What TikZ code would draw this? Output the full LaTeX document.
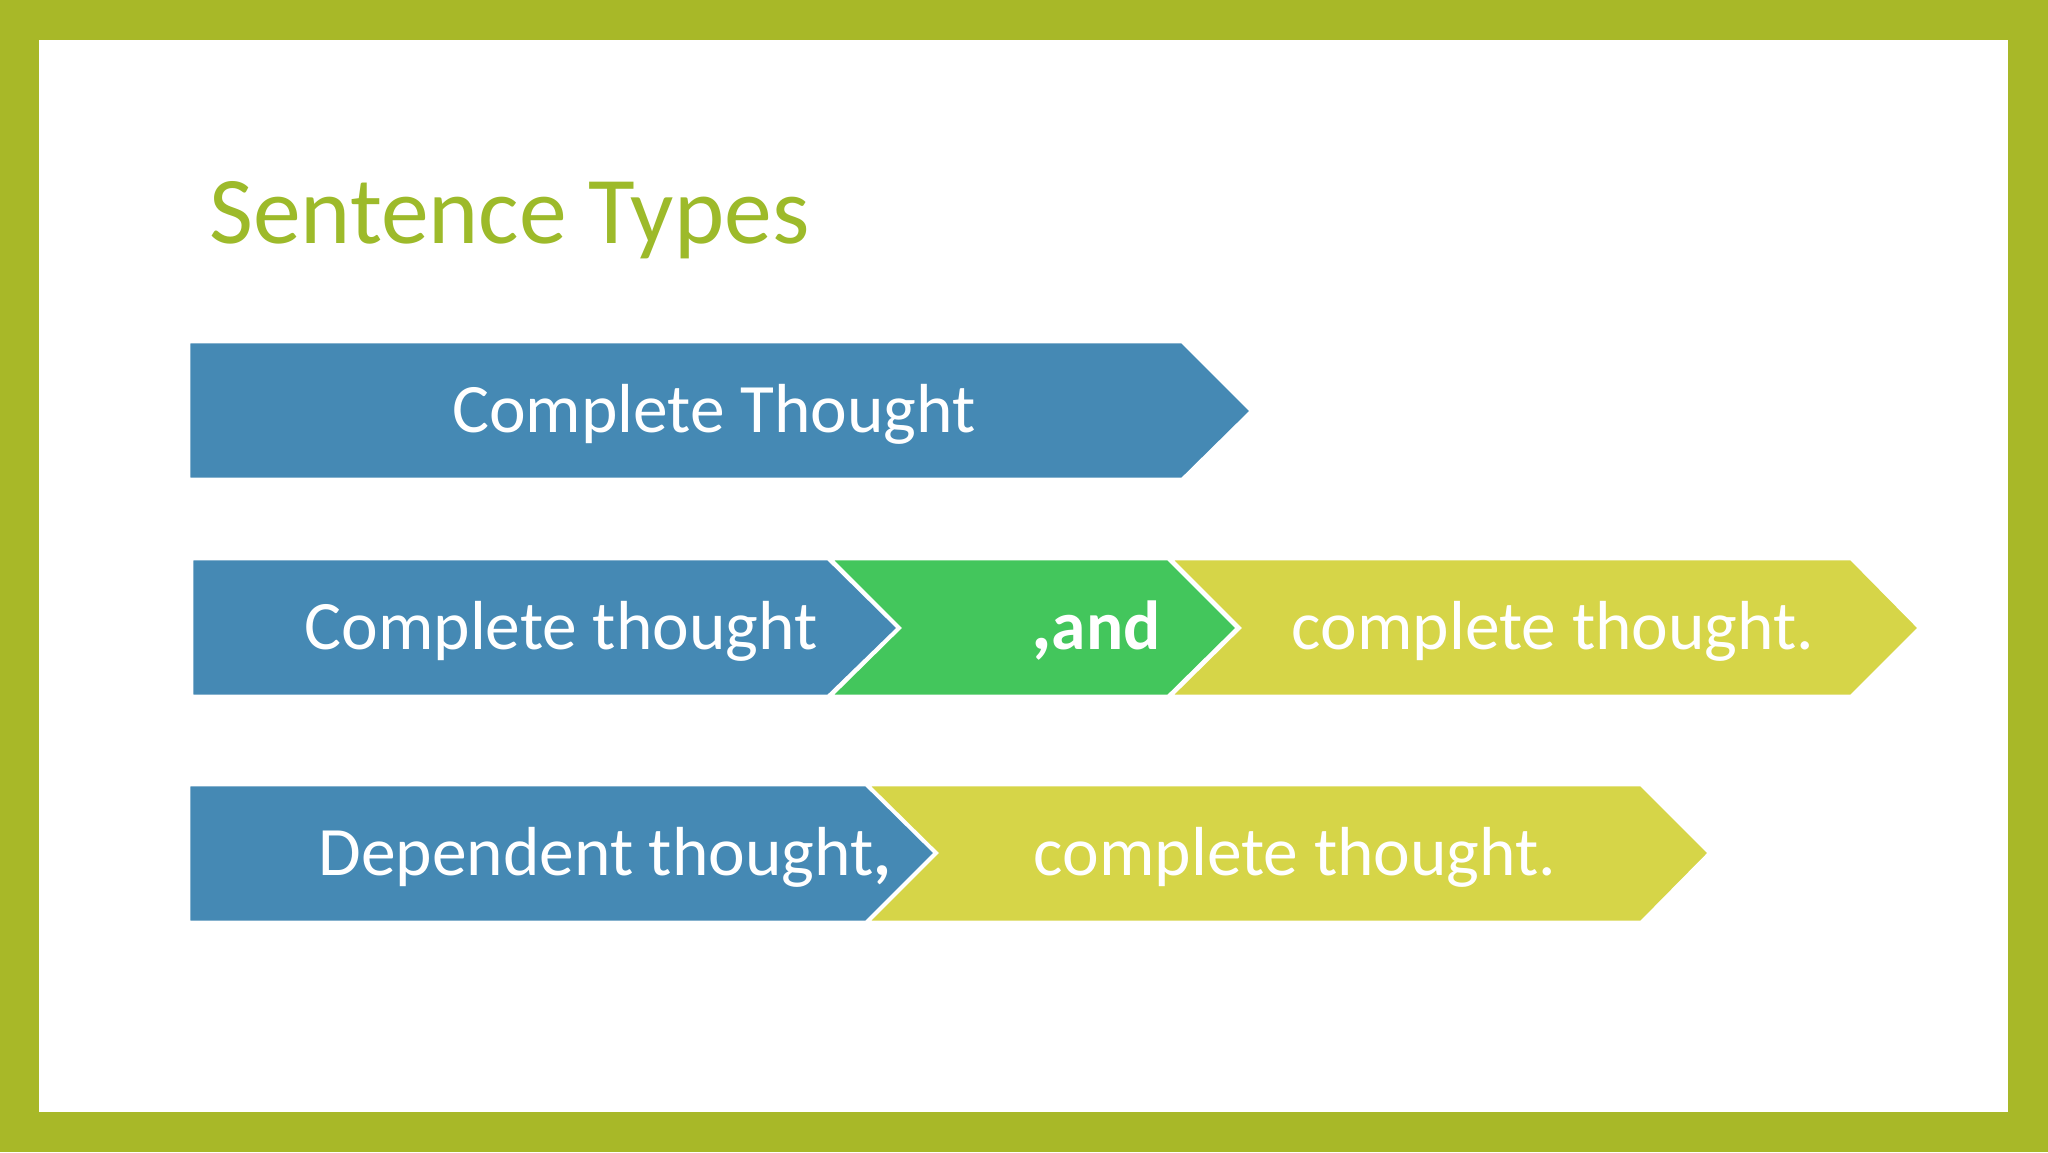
\documentclass[tikz,border=0pt]{standalone}
\usepackage{fontspec}
\setmainfont{Carlito}

\definecolor{framegreen}{HTML}{A8B828}
\definecolor{titlegreen}{HTML}{9DBA2A}
\definecolor{chevblue}{HTML}{4589B4}
\definecolor{chevgreen}{HTML}{43C65C}
\definecolor{chevyellow}{HTML}{D6D548}

\begin{document}
\begin{tikzpicture}[x=0.5pt, y=-0.5pt]

% Set the overall look of the slide
\tikzstyle{frame} = [fill=framegreen]
\tikzstyle{sheet} = [fill=white]
\tikzstyle{piece} = [draw=white, line width=1.3pt, line join=miter]
\tikzstyle{word} = [text=white, anchor=base, inner sep=0pt,
    font=\fontsize{34.7}{40}\selectfont]

% Frame and title
\fill[frame] (0,0) rectangle (2048,1152);
\fill[sheet] (39,40) rectangle (2008,1112);
\node[anchor=base west, inner sep=0pt, text=titlegreen,
    font=\fontsize{47.8}{54}\selectfont] (title) at (209,243) {Sentence Types};

% First row
\path[piece, fill=chevblue] (189,342) -- (1182,342) -- (1251,411)
    -- (1182,479) -- (189,479) -- cycle;
\node[word] (simple) at (714,432) {Complete Thought};

% Second row
\path[piece, fill=chevblue] (192,559) -- (828,559) -- (898,628)
    -- (828,696) -- (192,696) -- cycle;
\path[piece, fill=chevgreen] (831,559) -- (1168,559) -- (1237,628)
    -- (1168,696) -- (831,696) -- (900,628) -- cycle;
\path[piece, fill=chevyellow] (1171,559) -- (1851,559) -- (1919,628)
    -- (1851,696) -- (1171,696) -- (1240,628) -- cycle;
\node[word] (first) at (561,649) {Complete thought};
\node[word, font=\fontsize{34.7}{40}\selectfont\bfseries] (conj) at (1096,649)
    {{\fontsize{40}{40}\selectfont,}and};
\node[word] (second) at (1553,649) {complete thought.};

% Third row
\path[piece, fill=chevblue] (189,785) -- (866,785) -- (935,853)
    -- (866,922) -- (189,922) -- cycle;
\path[piece, fill=chevyellow] (868,785) -- (1641,785) -- (1709,853)
    -- (1641,922) -- (868,922) -- (937,853) -- cycle;
\node[word] (dependent) at (605,875) {Dependent thought\textbf{,}};
\node[word] (main) at (1295,875) {complete thought.};

\end{tikzpicture}
\end{document}
